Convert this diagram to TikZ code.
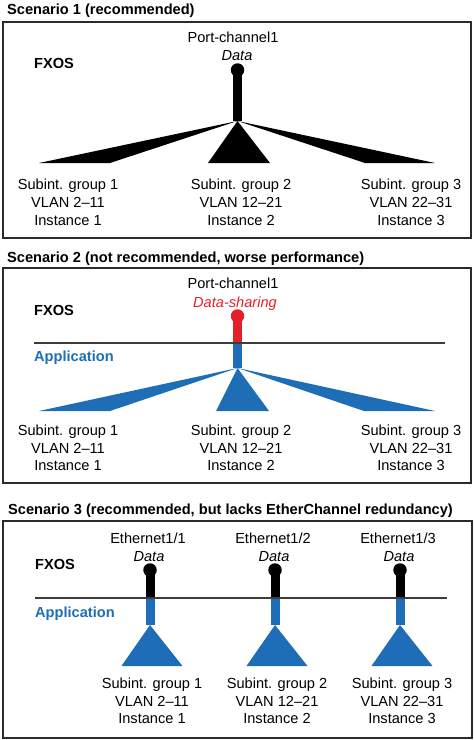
\documentclass[tikz,border=0pt]{standalone}
\usepackage{fontspec}
\setmainfont{Liberation Sans}
\definecolor{appblue}{HTML}{1D6EB6}
\definecolor{sharered}{HTML}{E32028}
\definecolor{linegray}{HTML}{3C3C3C}
\definecolor{framegray}{HTML}{2A2A2A}
\begin{document}
\begin{tikzpicture}[x=1pt,y=-1pt,
  txt/.style={inner sep=0pt, anchor=base, font=\fontsize{14.6}{18}\selectfont},
  ttl/.style={inner sep=0pt, anchor=base west, font=\fontsize{14.6}{18}\selectfont\bfseries},
  lbl/.style={inner sep=0pt, anchor=base west, font=\fontsize{14.6}{18}\selectfont\bfseries},
  ital/.style={inner sep=0pt, anchor=base, font=\fontsize{14.6}{18}\selectfont\itshape},
  frame/.style={draw=framegray, line width=1.3pt},
  layer/.style={draw=linegray, line width=1.6pt},
  dot/.style={circle, inner sep=0pt, minimum size=13.5pt},
  stem/.style={line width=9pt, line cap=butt}]
\useasboundingbox (0,0) rectangle (474,740);

% ---------------- Scenario 1 ----------------
\node[ttl] (t1) at (7,14.5) {Scenario 1 (recommended)};
\draw[frame] (3,22) rectangle (471,238);
\node[txt] (pc1) at (233,42) {Port-channel1};
\node[ital] (pc1d) at (237,60) {Data};
\node[lbl] (fx1) at (34,68) {FXOS};
\node[dot, fill=black] (d1) at (237.5,70) {};
\coordinate (a1) at (237.5,121);
\draw[stem, black] (d1.center) -- (a1);
\fill[black] (a1) -- (39,163) -- (110,163) -- cycle;
\fill[black] (a1) -- (208,163) -- (270,163) -- cycle;
\fill[black] (a1) -- (365,163) -- (435,163) -- cycle;
\foreach \i/\x/\v in {1/68/2–11,2/241/12–21,3/411/22–31}{
  \node[txt] (s1g\i) at (\x,189) {Subint. group \i};
  \node[txt] (s1v\i) at (\x,207) {VLAN \v};
  \node[txt] (s1n\i) at (\x,225) {Instance \i};
}

% ---------------- Scenario 2 ----------------
\node[ttl] (t2) at (7,262) {Scenario 2 (not recommended, worse performance)};
\draw[frame] (3,268) rectangle (471,483);
\node[txt] (pc2) at (233,288) {Port-channel1};
\node[ital, text=sharered] (pc2d) at (235,307) {Data-sharing};
\node[lbl] (fx2) at (34,315) {FXOS};
\node[lbl, text=appblue] (ap2) at (34,361) {Application};
\node[dot, fill=sharered] (d2) at (237.5,316) {};
\coordinate (m2) at (237.5,343);
\coordinate (a2) at (237.5,368);
\draw[stem, sharered] (d2.center) -- (m2);
\draw[stem, appblue] (m2) -- (a2);
\coordinate (l2a) at (34,343);
\coordinate (l2b) at (445,343);
\draw[layer] (l2a) -- (l2b);
\fill[appblue] (a2) -- (39,411) -- (110,411) -- cycle;
\fill[appblue] (a2) -- (216,411) -- (269,411) -- cycle;
\fill[appblue] (a2) -- (364,411) -- (435,411) -- cycle;
\foreach \i/\x/\v in {1/68/2–11,2/241/12–21,3/411/22–31}{
  \node[txt] (s2g\i) at (\x,435) {Subint. group \i};
  \node[txt] (s2v\i) at (\x,453) {VLAN \v};
  \node[txt] (s2n\i) at (\x,470) {Instance \i};
}

% ---------------- Scenario 3 ----------------
\node[ttl] (t3) at (8,514) {Scenario 3 (recommended, but lacks EtherChannel redundancy)};
\draw[frame] (3,521) rectangle (472,738);
\node[lbl] (fx3) at (35,569) {FXOS};
\node[lbl, text=appblue] (ap3) at (35,617) {Application};
\foreach \i/\x in {1/150,2/275,3/400}{
  \node[txt] (e\i) at (\x-2,543) {Ethernet1/\i};
  \node[ital] (e\i d) at (\x-1,561) {Data};
  \node[dot, fill=black] (d3\i) at (\x,570) {};
  \coordinate (m3\i) at (\x,598);
  \coordinate (a3\i) at (\x,625);
  \draw[stem, black] (d3\i.center) -- (m3\i);
  \draw[stem, appblue] (m3\i) -- (a3\i);
}
\coordinate (l3a) at (35,598);
\coordinate (l3b) at (447,598);
\draw[layer] (l3a) -- (l3b);
\foreach \i/\x in {1/150,2/275,3/400}{
  \fill[appblue] (a3\i) -- (\x-28.5,666) -- (\x+32.5,666) -- cycle;
}
\foreach \i/\x/\v in {1/152/2–11,2/277/12–21,3/402/22–31}{
  \node[txt] (s3g\i) at (\x,688) {Subint. group \i};
  \node[txt] (s3v\i) at (\x,706) {VLAN \v};
  \node[txt] (s3n\i) at (\x,723) {Instance \i};
}
\end{tikzpicture}
\end{document}
